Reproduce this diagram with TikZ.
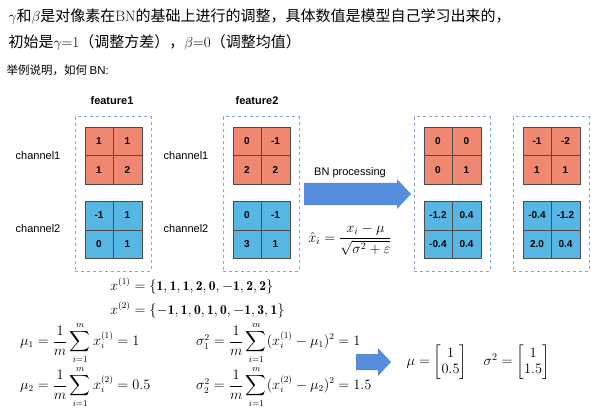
\documentclass[tikz,border=0pt]{standalone}
\usepackage{amsmath}
\usepackage{fontspec}
\newfontfamily\cjk{Noto Sans CJK SC}
\newfontfamily\arial{Liberation Sans}
\definecolor{redc}{RGB}{240,135,112}
\definecolor{bluec}{RGB}{86,182,228}
\definecolor{dashc}{RGB}{140,165,210}
\definecolor{arrc}{RGB}{85,140,220}
\begin{document}
\begin{tikzpicture}[x=1pt,y=-1pt,
  cell/.style={draw=black!70,minimum size=28.5pt,inner sep=0pt,font=\arial\bfseries\fontsize{10}{10}\selectfont},
  rc/.style={cell,fill=redc}, bc/.style={cell,fill=bluec},
  grp/.style={draw=dashc,dashed,line width=1pt,minimum width=76pt,minimum height=154pt},
  lab/.style={font=\arial\fontsize{11}{12}\selectfont},
  mth/.style={font=\fontsize{14}{16}\selectfont},
  smth/.style={font=\fontsize{13.5}{15}\selectfont,inner sep=0pt},
  arrfill/.style={fill=arrc,draw=none}]
\useasboundingbox (0,0) rectangle (600,409);
\node[anchor=west,font=\fontsize{15}{17}\selectfont] (t1) at (5,17) {$\gamma$\cjk 和\rmfamily$\beta$\cjk 是对像素在\rmfamily BN\cjk 的基础上进行的调整，具体数值是模型自己学习出来的，};
\node[anchor=west,font=\fontsize{15}{17}\selectfont] (t2) at (5,42) {\cjk 初始是\rmfamily$\gamma$=1\cjk （调整方差），\rmfamily$\beta$=0\cjk （调整均值）};
\node[anchor=west,font=\fontsize{11.5}{13}\selectfont] (t3) at (3,70) {\cjk 举例说明，如何 \arial BN:};
\node[font=\arial\bfseries\fontsize{11}{12}\selectfont] (f1) at (112,101) {feature1};
\node[font=\arial\bfseries\fontsize{11}{12}\selectfont] (f2) at (257,101) {feature2};
\node[lab] (c1a) at (38,156) {channel1};
\node[lab] (c2a) at (38,229) {channel2};
\node[lab] (c1b) at (186,156) {channel1};
\node[lab] (c2b) at (186,229) {channel2};
% boxes
\node[grp] (b1) at (113,194) {};
\node[grp] (b2) at (261,194) {};
\node[grp] (b3) at (452,194) {};
\node[grp] (b4) at (551,194) {};
% grids
\foreach \n/\cx/\ty/\st/\a/\b/\c/\d in {
 g1r/84.5/127/rc/1/1/1/2, g1b/84.5/201/bc/-1/1/0/1,
 g2r/232.5/127/rc/0/-1/2/2, g2b/232.5/201/bc/0/-1/3/1,
 g3r/423.5/127/rc/0/0/0/1, g3b/423.5/201/bc/-1.2/0.4/-0.4/0.4,
 g4r/522.5/127/rc/-1/-2/1/1, g4b/522.5/201/bc/-0.4/-1.2/2.0/0.4}{
 \node[\st,anchor=north west] (\n a) at (\cx,\ty) {\a};
 \node[\st,anchor=north west] (\n b) at (\cx+28.5,\ty) {\b};
 \node[\st,anchor=north west] (\n c) at (\cx,\ty+28.5) {\c};
 \node[\st,anchor=north west] (\n d) at (\cx+28.5,\ty+28.5) {\d};
}
\node[lab] (bnp) at (350,173) {BN processing};
\fill[arrfill] (304,183) -- (397,183) -- (397,179) -- (411,194) -- (397,209) -- (397,205) -- (304,205) -- cycle;
\node[mth] (fx) at (350,240) {$\hat{x}_i=\dfrac{x_i-\mu}{\sqrt{\sigma^2+\varepsilon}}$};
\node[smth,anchor=west] (x1) at (110,286) {$x^{(1)}=\{\mathbf{1,1,1,2,0,{-}1,2,2}\}$};
\node[smth,anchor=west] (x2) at (110,310) {$x^{(2)}=\{\mathbf{{-}1,1,0,1,0,{-}1,3,1}\}$};
\node[smth,anchor=west] (m1) at (20,343) {$\mu_1=\dfrac{1}{m}\displaystyle\sum_{i=1}^{m}x_i^{(1)}=1$};
\node[smth,anchor=west] (m2) at (20,387) {$\mu_2=\dfrac{1}{m}\displaystyle\sum_{i=1}^{m}x_i^{(2)}=0.5$};
\node[smth,anchor=west] (s1) at (196,343) {$\sigma_1^2=\dfrac{1}{m}\displaystyle\sum_{i=1}^{m}(x_i^{(1)}-\mu_1)^2=1$};
\node[smth,anchor=west] (s2) at (196,387) {$\sigma_2^2=\dfrac{1}{m}\displaystyle\sum_{i=1}^{m}(x_i^{(2)}-\mu_2)^2=1.5$};
\fill[arrfill] (356,354) -- (378,354) -- (378,348) -- (391,362) -- (378,376) -- (378,370) -- (356,370) -- cycle;
\node[mth,anchor=west] (res) at (403,362) {$\mu=\begin{bmatrix}1\\0.5\end{bmatrix}\quad\sigma^2=\begin{bmatrix}1\\1.5\end{bmatrix}$};
\end{tikzpicture}
\end{document}
